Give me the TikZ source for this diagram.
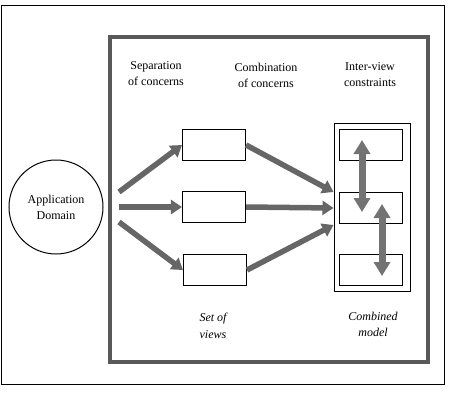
\documentclass[tikz,border=0pt]{standalone}
\usepackage{fontspec}
\setmainfont{Liberation Serif}
\usepackage{tikz}
\usetikzlibrary{arrows.meta}

\tikzset{
  viewbox/.style={draw, line width=1.1pt, minimum width=63pt, minimum height=31pt, inner sep=0pt},
  fatarrow/.style={draw=black!60, line width=5.5pt, -{Triangle[length=11pt,width=14pt]}},
  linkarrow/.style={draw=black!55, line width=7pt, {Triangle[length=14pt,width=16pt]}-{Triangle[length=14pt,width=16pt]}},
  lbl/.style={align=center, font=\fontsize{12}{16}\selectfont}
}

\begin{document}
\begin{tikzpicture}[x=1pt, y=-1pt]
    \useasboundingbox (0,0) rectangle (474,407);
    % frames
    \draw[line width=0.9pt] (1,5) rectangle (444,384);
    \draw[line width=4pt, black!65] (110,37) rectangle (428,362);
    \node[draw, circle, line width=1pt, minimum size=94pt, lbl] (app) at (56,207) {Application\\Domain};
    % headings
    \node[lbl] (sep) at (156,74) {Separation\\of concerns};
    \node[lbl] (comb) at (266,75) {Combination\\of concerns};
    \node[lbl] (constr) at (370,75) {Inter-view\\constraints};
    % set of views
    \node[viewbox] (v1) at (214,145) {};
    \node[viewbox] (v2) at (214,207) {};
    \node[viewbox] (v3) at (215,270) {};
    \node[lbl, font=\fontsize{12}{17}\selectfont\itshape] (setv) at (213,326) {Set of\\views};
    % combined model
    \node[draw, line width=1pt, minimum width=76pt, minimum height=168pt, inner sep=0pt] (m) at (372,207) {};
    \node[viewbox] (m1) at (371,145) {};
    \node[viewbox] (m2) at (371,208) {};
    \node[viewbox] (m3) at (371,270) {};
    \node[lbl, font=\fontsize{12}{16}\selectfont\itshape] (cmodel) at (373,324) {Combined\\model};
    % arrows
    \coordinate (s1) at (119,192);
    \coordinate (s2) at (119,207);
    \coordinate (s3) at (119,222);
    \draw[fatarrow] (s1) -- (v1.west);
    \draw[fatarrow] (s2) -- (v2.west);
    \draw[fatarrow] (s3) -- (v3.west);
    \draw[fatarrow] (v1.east) -- ([yshift=15pt]m.west);
    \draw[fatarrow] (v2.east) -- ([yshift=-1pt]m.west);
    \draw[fatarrow] (v3.east) -- ([yshift=-18pt]m.west);
    \draw[linkarrow] ([xshift=-9pt,yshift=5pt]m1.center) -- ([xshift=-9pt,yshift=-4pt]m2.center);
    \draw[linkarrow] ([xshift=11pt,yshift=4pt]m2.center) -- ([xshift=11pt,yshift=-6pt]m3.center);
\end{tikzpicture}
\end{document}
